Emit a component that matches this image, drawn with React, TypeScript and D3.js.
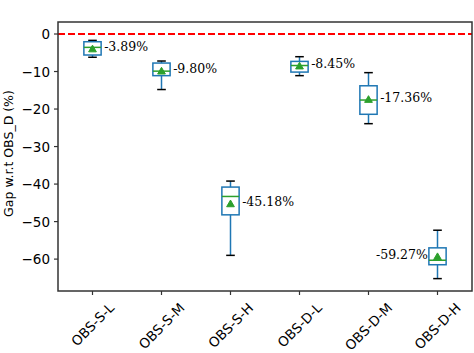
import React, { useEffect, useRef } from 'react';
import * as d3 from 'd3';

const categories = ['OBS-S-L', 'OBS-S-M', 'OBS-S-H', 'OBS-D-L', 'OBS-D-M', 'OBS-D-H'];
const whiskerHigh = [-1.7, -7.2, -39.2, -6.05, -10.3, -52.3];
const q3 = [-2.06, -7.74, -40.8, -7.3, -13.8, -57.0];
const medians = [-3.56, -9.9, -43.3, -8.4, -17.6, -60.3];
const q1 = [-5.6, -11.1, -48.2, -10.15, -21.4, -61.5];
const whiskerLow = [-6.2, -14.8, -59.0, -11.1, -23.9, -65.2];
const means = [-3.89, -9.8, -45.18, -8.45, -17.36, -59.27];
const labelSide = ['right', 'right', 'right', 'right', 'right', 'left'];
const yTicks = [0, -10, -20, -30, -40, -50, -60];

const W = 474;
const H = 353;
const margin = { top: 22, right: 2, bottom: 62, left: 58 };

export default function App() {
  const svgRef = useRef<SVGSVGElement>(null);

  useEffect(() => {
    if (!svgRef.current) return;
    const svg = d3.select(svgRef.current);
    svg.selectAll('*').remove();

    const x0 = margin.left;
    const x1 = W - margin.right;
    const y0 = H - margin.bottom;
    const y1 = margin.top;

    const x = d3.scaleLinear().domain([0.5, categories.length + 0.5]).range([x0, x1]);
    const y = d3.scaleLinear().domain([-68.5, 3.2]).range([y0, y1]);
    const boxW = x(1.25) - x(1);
    const capW = boxW / 2;
    const tickFont = 13.5;

    const g = svg.append('g');

    // boxes
    categories.forEach((_, i) => {
      const cx = x(i + 1);
      // whiskers
      g.append('line')
        .attr('x1', cx).attr('x2', cx)
        .attr('y1', y(q3[i])).attr('y2', y(whiskerHigh[i]))
        .attr('stroke', '#1f77b4').attr('stroke-width', 1.5);
      g.append('line')
        .attr('x1', cx).attr('x2', cx)
        .attr('y1', y(q1[i])).attr('y2', y(whiskerLow[i]))
        .attr('stroke', '#1f77b4').attr('stroke-width', 1.5);
      // caps
      [whiskerHigh[i], whiskerLow[i]].forEach(v => {
        g.append('line')
          .attr('x1', cx - capW / 2).attr('x2', cx + capW / 2)
          .attr('y1', y(v)).attr('y2', y(v))
          .attr('stroke', '#000').attr('stroke-width', 1.5);
      });
      // box
      g.append('rect')
        .attr('x', cx - boxW / 2)
        .attr('y', y(q3[i]))
        .attr('width', boxW)
        .attr('height', y(q1[i]) - y(q3[i]))
        .attr('fill', 'none')
        .attr('stroke', '#1f77b4')
        .attr('stroke-width', 1.5);
      // median
      g.append('line')
        .attr('x1', cx - boxW / 2).attr('x2', cx + boxW / 2)
        .attr('y1', y(medians[i])).attr('y2', y(medians[i]))
        .attr('stroke', '#2ca02c').attr('stroke-width', 1.5);
      // mean marker
      g.append('path')
        .attr('d', d3.symbol(d3.symbolTriangle, 26)() as string)
        .attr('transform', `translate(${cx},${y(means[i]) + 1})`)
        .attr('fill', '#2ca02c')
        .attr('stroke', '#2ca02c')
        .attr('stroke-width', 1);
      // mean label
      const right = labelSide[i] === 'right';
      g.append('text')
        .attr('x', right ? cx + boxW / 2 + 3 : cx - boxW / 2 - 1)
        .attr('y', y(means[i]) - 2)
        .attr('text-anchor', right ? 'start' : 'end')
        .attr('dominant-baseline', 'central')
        .attr('font-family', '"DejaVu Serif", serif')
        .attr('font-size', 12.5)
        .attr('fill', '#000')
        .text(means[i].toFixed(2) + '%');
    });

    // zero reference line
    g.append('line')
      .attr('x1', x0).attr('x2', x1)
      .attr('y1', y(0)).attr('y2', y(0))
      .attr('stroke', 'red')
      .attr('stroke-width', 2)
      .attr('stroke-dasharray', '7,3');

    // spines
    g.append('rect')
      .attr('x', x0).attr('y', y1)
      .attr('width', x1 - x0).attr('height', y0 - y1)
      .attr('fill', 'none')
      .attr('stroke', '#333')
      .attr('stroke-width', 1.5);

    // y ticks
    yTicks.forEach(t => {
      g.append('line')
        .attr('x1', x0 - 4).attr('x2', x0)
        .attr('y1', y(t)).attr('y2', y(t))
        .attr('stroke', '#333').attr('stroke-width', 1.2);
      g.append('text')
        .attr('x', x0 - 8)
        .attr('y', y(t))
        .attr('text-anchor', 'end')
        .attr('dominant-baseline', 'central')
        .attr('font-family', '"DejaVu Sans", sans-serif')
        .attr('font-size', tickFont)
        .attr('fill', '#000')
        .text(t === 0 ? '0' : '\u2212' + Math.abs(t));
    });

    // x ticks + rotated labels centred under each tick
    categories.forEach((c, i) => {
      const cx = x(i + 1);
      g.append('line')
        .attr('x1', cx).attr('x2', cx)
        .attr('y1', y0).attr('y2', y0 + 4)
        .attr('stroke', '#333').attr('stroke-width', 1.2);
      const txt = g.append('text')
        .attr('text-anchor', 'middle')
        .attr('dominant-baseline', 'central')
        .attr('font-family', '"DejaVu Sans", sans-serif')
        .attr('font-size', tickFont)
        .attr('fill', '#000')
        .text(c);
      const w = (txt.node() as SVGTextElement).getComputedTextLength();
      const h = tickFont * 1.1;
      const cy = y0 + 9 + (w + h) / (2 * Math.SQRT2);
      txt.attr('x', cx).attr('y', cy).attr('transform', `rotate(-45,${cx},${cy})`);
    });

    // y axis title
    g.append('text')
      .attr('transform', `translate(8,${(y0 + y1) / 2 - 3}) rotate(-90)`)
      .attr('text-anchor', 'middle')
      .attr('dominant-baseline', 'central')
      .attr('font-family', '"DejaVu Sans", sans-serif')
      .attr('font-size', 12.5)
      .attr('fill', '#000')
      .text('Gap w.r.t OBS_D (%)');
  }, []);

  return (
    <svg
      ref={svgRef}
      width={W}
      height={H}
      style={{ position: 'absolute', left: 0, top: 0, background: '#fff' }}
    />
  );
}
